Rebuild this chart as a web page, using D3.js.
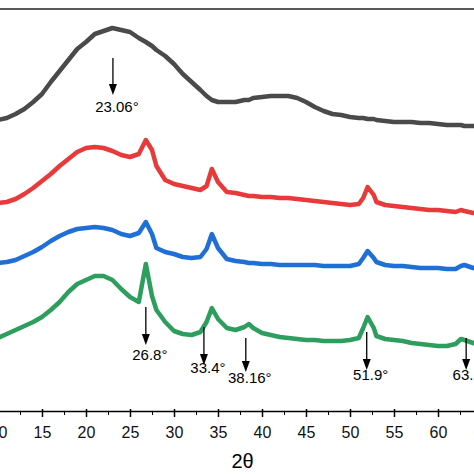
<!DOCTYPE html>
<html><head><meta charset="utf-8">
<script src="https://cdn.jsdelivr.net/npm/d3@7"></script>
<style>body{margin:0;background:#fff}</style></head>
<body><svg id="c" width="474" height="474"></svg>
<script>
const xTicks=[10,15,20,25,30,35,40,45,50,55,60,65];
const twoTheta=[10,11,12,13,14,15,16,17,18,19,20,21,22,23,24,25,26,26.8,27.5,28,29,30,31,32,33,33.7,34.3,35,36,37,38,38.5,39,40,41,42,43,44,45,46,47,48,49,50,51,51.5,52,52.7,53,54,55,56,57,58,59,60,61,62,62.6,63,64,65];
// relative intensities (arbitrary units, offset per sample)
const sample1=[354,356,360,365,372,380,392,403,414,425,432,440,443,446,444,442,436,432,428,424,418,410,400,392,384,378,374,372,372,372,374,374,376,377,378,378,378,376,372,367,363,360,359,357,356,356,355,355,354,353,352,352,352,351,351,350,349,349,349,348,348,347];
const sample2=[271,272,275,280,286,293,300,308,315,322,326,327,326,323,319,317,320,334,324,308,294,290,288,286,284,288,305,292,282,281,279,278,278,277,277,276,276,275,274,273,272,271,270,269,270,276,287,279,272,269,268,267,266,265,264,264,263,262,264,263,261,260];
const sample3=[211,212,214,218,222,227,233,238,242,245,246,247,246,244,240,238,241,252,240,226,222,220,217,216,217,225,240,226,215,213,212,211,211,210,210,209,209,209,209,209,208,208,208,208,210,216,223,216,212,209,208,208,207,206,206,206,205,205,208,209,206,204];
const sample4=[136,140,144,148,152,157,164,172,182,190,194,198,198,194,185,177,172,210,178,164,152,143,140,139,142,152,166,155,146,144,147,150,146,141,139,137,136,135,134,134,133,133,133,134,136,146,157,146,138,135,134,133,131,130,129,128,128,130,135,134,131,129];
const series=[{v:sample1,c:"#4a4a4a"},{v:sample2,c:"#e8393b"},{v:sample3,c:"#1f6fd6"},{v:sample4,c:"#2e9e5e"}];
const peaks=[{x:23.06,lab:"23.06°",y0:416,y1:379,ly:362},{x:26.8,lab:"26.8°",y0:167,y1:129,ly:114},{x:33.4,lab:"33.4°",y0:147,y1:109,ly:101},{x:38.16,lab:"38.16°",y0:136,y1:102,ly:91},{x:51.9,lab:"51.9°",y0:142,y1:104,ly:94},{x:63.2,lab:"63.2°",y0:136,y1:104,ly:94}];
const svg=d3.select("#c");
const x=d3.scaleLinear().domain([10,65]).range([-2,482]);
const y=d3.scaleLinear().domain([0,474]).range([474,0]);
svg.append("line").attr("x1",0).attr("x2",474).attr("y1",9).attr("y2",9).attr("stroke","#222").attr("stroke-width",1.5);
const line=d3.line().x((d,i)=>x(twoTheta[i])).y(d=>y(d));
series.forEach(s=>svg.append("path").datum(s.v).attr("d",line).attr("fill","none").attr("stroke",s.c).attr("stroke-width",4.5).attr("stroke-linejoin","round"));
peaks.forEach(p=>{
 const px=x(p.x), ya=y(p.y0), yb=y(p.y1);
 svg.append("line").attr("x1",px).attr("x2",px).attr("y1",ya).attr("y2",yb-8).attr("stroke","#000").attr("stroke-width",1.3);
 svg.append("path").attr("d",`M${px-4},${yb-11}L${px+4},${yb-11}L${px},${yb}Z`).attr("fill","#000");
 svg.append("text").attr("x",px+4).attr("y",y(p.ly)).attr("text-anchor","middle").attr("font-family","Liberation Sans, Arial").attr("font-size",15).text(p.lab);
});
const ax=svg.append("g").attr("transform","translate(0,411)").call(d3.axisBottom(x).tickValues(xTicks).tickSize(6).tickSizeOuter(0).tickPadding(10));
ax.selectAll("text").attr("font-family","Liberation Sans, Arial").attr("font-size",16).attr("fill","#111");
ax.select(".domain").attr("stroke-width",1.5);
ax.selectAll(".tick line").attr("stroke-width",1.5).attr("y1",-2);
svg.append("g").attr("transform","translate(0,411)").call(d3.axisBottom(x).tickValues(d3.range(12.5,65,5)).tickSize(4).tickFormat("")).select(".domain").remove();
svg.append("text").attr("x",x(37.8)).attr("y",468).attr("text-anchor","middle").attr("font-family","Liberation Sans, Arial").attr("font-size",20).text("2θ");
</script></body></html>
